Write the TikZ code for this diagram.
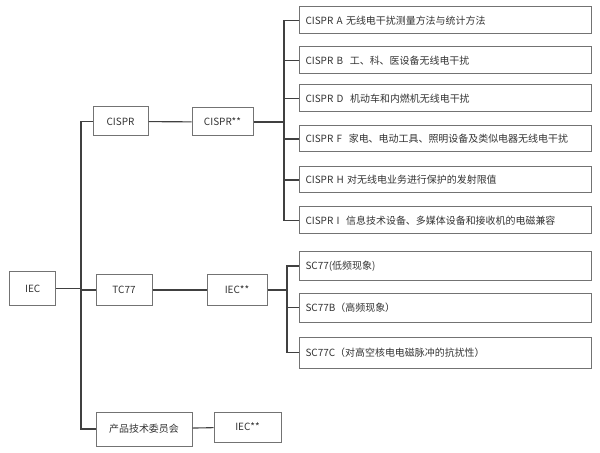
\documentclass[tikz,border=0pt]{standalone}
\usepackage{fontspec}
\setmainfont{Noto Sans CJK SC}
\begin{document}
\begin{tikzpicture}[x=1bp, y=-1bp,
    box/.style={draw=black!55, line width=1bp, inner sep=0pt, font=\fontsize{10}{12}\selectfont, text=black!80},
    wide/.style={box, minimum width=292bp, anchor=west, text width=280bp, align=left, inner xsep=6bp},
    line/.style={draw=black!75, line width=1.1bp}]
    \useasboundingbox (0,0) rectangle (600,453);

    % left column
    \node[box, minimum width=46bp, minimum height=33bp] (iec) at (32.7,288.5) {IEC};
    \node[box, minimum width=55bp, minimum height=29bp] (cispr) at (120.5,121.5) {CISPR};
    \node[box, minimum width=56bp, minimum height=30bp] (tc) at (124,290) {TC77};
    \node[box, minimum width=96bp, minimum height=34bp] (prod) at (144,429) {产品技术委员会};

    % middle column
    \node[box, minimum width=61bp, minimum height=28bp] (cisprx) at (222.5,122) {CISPR**};
    \node[box, minimum width=60bp, minimum height=30bp] (iecx) at (237,290) {IEC**};
    \node[box, minimum width=67bp, minimum height=30bp] (prodx) at (247.5,427) {IEC**};

    % CISPR sub-committees
    \node[wide, minimum height=27bp] (ca) at (299,20.5) {CISPR A 无线电干扰测量方法与统计方法};
    \node[wide, minimum height=27bp] (cb) at (299,60.5) {CISPR B\ \ 工、科、医设备无线电干扰};
    \node[wide, minimum height=27bp] (cd) at (299,98.5) {CISPR D\ \ 机动车和内燃机无线电干扰};
    \node[wide, minimum height=26bp] (cf) at (299,139) {CISPR F\ \ 家电、电动工具、照明设备及类似电器无线电干扰};
    \node[wide, minimum height=26bp] (ch) at (299,180) {CISPR H 对无线电业务进行保护的发射限值};
    \node[wide, minimum height=27bp] (ci) at (299,220.5) {CISPR I\ \ 信息技术设备、多媒体设备和接收机的电磁兼容};

    % SC77 sub-committees
    \node[wide, minimum height=28bp] (sa) at (299,266) {SC77(低频现象)};
    \node[wide, minimum height=29bp] (sb) at (299,307.5) {SC77B（高频现象）};
    \node[wide, minimum height=31bp] (sc) at (299,352.5) {SC77C（对高空核电电磁脉冲的抗扰性）};

    % trunks
    \coordinate (ta) at (81,0);
    \coordinate (tb) at (284,0);
    \coordinate (tc2) at (287,0);

    \draw[line] (iec.east) -- (iec.east -| ta);
    \draw[line] (cispr.west) -- (cispr.west -| ta) |- (prod.west);
    \draw[line] (tc.west) -- (tc.west -| ta);
    \draw[line] (cispr) -- (cisprx);
    \draw[line] (tc) -- (iecx);
    \draw[line] (prod) -- (prodx);

    \draw[line] (ca.west) -- (ca.west -| tb) |- (ci.west);
    \foreach \n in {cb, cd, cf, ch} {
        \draw[line] (\n.west) -- (\n.west -| tb);
    }
    \draw[line] (cisprx.east) -- (cisprx.east -| tb);

    \draw[line] (sa.west) -- (sa.west -| tc2) |- (sc.west);
    \draw[line] (sb.west) -- (sb.west -| tc2);
    \draw[line] (iecx.east) -- (iecx.east -| tc2);
\end{tikzpicture}
\end{document}
